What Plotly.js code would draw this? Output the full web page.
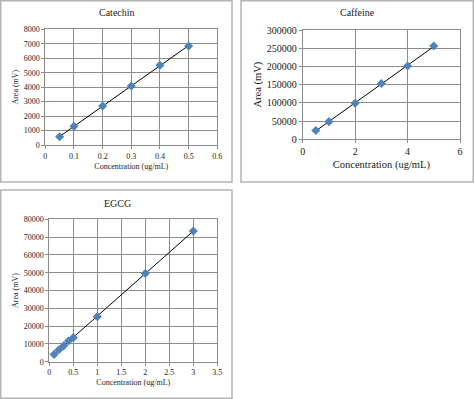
<!DOCTYPE html>
<html>
<head>
<meta charset="utf-8">
<script src="https://cdn.plot.ly/plotly-3.0.1.min.js"></script>
<style>html,body{margin:0;padding:0;background:#fff;}#chart{width:474px;height:399px;}</style>
</head>
<body>
<div id="chart"></div>
<script>
// Data
var catechinConc = [0.05, 0.1, 0.2, 0.3, 0.4, 0.5];
var catechinArea = [570, 1290, 2700, 4080, 5510, 6850];
var caffeineConc = [0.5, 1, 2, 3, 4, 5];
var caffeineArea = [24000, 48500, 99000, 153000, 201000, 256000];
var egcgConc = [0.1, 0.2, 0.3, 0.4, 0.5, 1, 2, 3];
var egcgArea = [4100, 6700, 8900, 11600, 13500, 25300, 49600, 73400];
var panelTitles = ["Catechin", "Caffeine", "EGCG"];
var xTitle = "Concentration (ug/mL)";
var yTitle = "Area (mV)";

function fit(xs, ys) {
  var n = xs.length, sx = 0, sy = 0, sxx = 0, sxy = 0;
  for (var i = 0; i < n; i++) { sx += xs[i]; sy += ys[i]; sxx += xs[i]*xs[i]; sxy += xs[i]*ys[i]; }
  var m = (n*sxy - sx*sy) / (n*sxx - sx*sx);
  var b = (sy - m*sx) / n;
  var x0 = Math.min.apply(null, xs), x1 = Math.max.apply(null, xs);
  return {x: [x0, x1], y: [m*x0 + b, m*x1 + b]};
}

var W = 474, H = 399;
function px(v) { return v / W; }
function py(v) { return 1 - v / H; }

var marker = {symbol: 'diamond', size: 7, color: '#4F81BD', line: {width: 0}};
var lineStyle = {color: '#000', width: 1};
var sets = [[catechinConc, catechinArea], [caffeineConc, caffeineArea], [egcgConc, egcgArea]];
var traces = [];
sets.forEach(function (s, i) {
  var xa = i === 0 ? 'x' : 'x' + (i + 1), ya = i === 0 ? 'y' : 'y' + (i + 1);
  var f = fit(s[0], s[1]);
  traces.push({x: f.x, y: f.y, mode: 'lines', line: lineStyle, xaxis: xa, yaxis: ya, hoverinfo: 'skip'});
  traces.push({x: s[0], y: s[1], mode: 'markers', marker: marker, xaxis: xa, yaxis: ya});
});

var serif = "'Liberation Serif', 'Times New Roman', serif";
function ax(opts) {
  var base = {
    showgrid: true, gridcolor: '#8c8c8c', gridwidth: 1,
    showline: true, linecolor: '#8c8c8c', linewidth: 1, mirror: true,
    zeroline: false, ticks: 'outside', ticklen: 3, tickcolor: '#8c8c8c',
    tickfont: {family: serif, size: opts.fs, color: '#1a1a1a'},
    title: {text: opts.title, font: {family: serif, size: opts.tfs, color: '#1a1a1a'}, standoff: opts.standoff},
    range: opts.range, dtick: opts.dtick, tick0: 0, domain: opts.domain, anchor: opts.anchor,
    fixedrange: true
  };
  if (opts.fmt) base.tickformat = opts.fmt;
  return base;
}

var layout = {
  width: W, height: H, margin: {l: 0, r: 0, t: 0, b: 0},
  paper_bgcolor: '#fff', plot_bgcolor: '#fff', showlegend: false,
  xaxis: ax({title: xTitle, fs: 8, tfs: 8, standoff: 3, range: [0, 0.6], dtick: 0.1, domain: [px(45.3), px(217.3)], anchor: 'y'}),
  yaxis: ax({title: yTitle, fs: 8, tfs: 8, standoff: 3, range: [0, 8000], dtick: 1000, domain: [py(145), py(29.3)], anchor: 'x', fmt: 'd'}),
  xaxis2: ax({title: xTitle, fs: 10, tfs: 10.5, standoff: 4, range: [0, 6], dtick: 2, domain: [px(302.7), px(460)], anchor: 'y2'}),
  yaxis2: ax({title: yTitle, fs: 10, tfs: 10.5, standoff: 3, range: [0, 300000], dtick: 50000, domain: [py(139.3), py(30)], anchor: 'x2', fmt: 'd'}),
  xaxis3: ax({title: xTitle, fs: 8, tfs: 8, standoff: 3, range: [0, 3.5], dtick: 0.5, domain: [px(49.3), px(217.3)], anchor: 'y3'}),
  yaxis3: ax({title: yTitle, fs: 8, tfs: 8, standoff: 3, range: [0, 80000], dtick: 10000, domain: [py(361.7), py(219.3)], anchor: 'x3', fmt: 'd'}),
  shapes: [
    {type: 'rect', xref: 'paper', yref: 'paper', x0: px(0.7), x1: px(232), y0: py(182), y1: py(0.7), line: {color: '#b4b4b4', width: 1.5}},
    {type: 'rect', xref: 'paper', yref: 'paper', x0: px(241), x1: px(473.3), y0: py(182), y1: py(0.7), line: {color: '#b4b4b4', width: 1.5}},
    {type: 'rect', xref: 'paper', yref: 'paper', x0: px(0.7), x1: px(232), y0: py(398.3), y1: py(190), line: {color: '#b4b4b4', width: 1.5}}
  ],
  annotations: [
    {text: panelTitles[0], xref: 'paper', yref: 'paper', x: px(117), y: py(13), showarrow: false, xanchor: 'center', yanchor: 'middle', font: {family: serif, size: 10, color: '#1a1a1a'}},
    {text: panelTitles[1], xref: 'paper', yref: 'paper', x: px(357), y: py(13), showarrow: false, xanchor: 'center', yanchor: 'middle', font: {family: serif, size: 10, color: '#1a1a1a'}},
    {text: panelTitles[2], xref: 'paper', yref: 'paper', x: px(117), y: py(203), showarrow: false, xanchor: 'center', yanchor: 'middle', font: {family: serif, size: 10, color: '#1a1a1a'}}
  ]
};

Plotly.newPlot('chart', traces, layout, {displayModeBar: false, staticPlot: true});
</script>
</body>
</html>
